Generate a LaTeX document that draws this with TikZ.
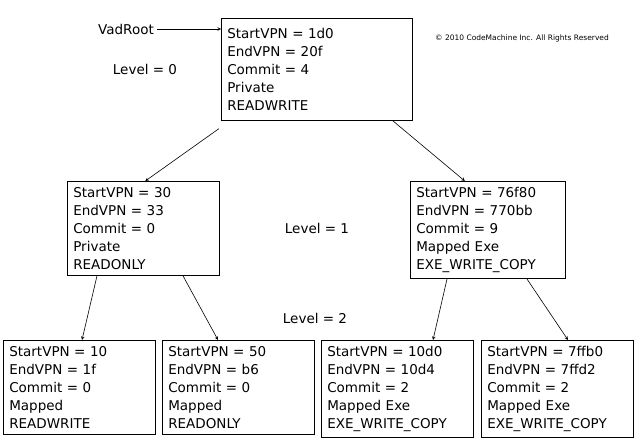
\documentclass[tikz,border=0pt]{standalone}
\usepackage{fontspec}
\setmainfont{DejaVu Sans}
\usetikzlibrary{positioning}

\tikzset{vad/.style={draw, semithick, anchor=north west, align=left, inner sep=6pt,
    text width=#1-12pt, minimum height=93pt, font=\fontsize{13.5}{18}\selectfont},
  vad/.default=152pt,
  lvl/.style={font=\fontsize{13.5}{15}\selectfont},
  arr/.style={semithick, ->, >=stealth}}

\begin{document}
\begin{tikzpicture}[x=1pt, y=-1pt]
\useasboundingbox (0,0) rectangle (643,447);

% root level
\node[vad=191pt, minimum height=102pt] (root) at (221,18)
  {StartVPN = 1d0\\EndVPN = 20f\\Commit = 4\\Private\\READWRITE};

% level 1
\node[vad] (va) at (67,181)
  {StartVPN = 30\\EndVPN = 33\\Commit = 0\\Private\\READONLY};
\node[vad=155pt] (vb) at (410,181)
  {StartVPN = 76f80\\EndVPN = 770bb\\Commit = 9\\Mapped Exe\\EXE\_WRITE\_COPY};

% level 2
\node[vad] (vaa) at (3,340)
  {StartVPN = 10\\EndVPN = 1f\\Commit = 0\\Mapped\\READWRITE};
\node[vad] (vab) at (162,340)
  {StartVPN = 50\\EndVPN = b6\\Commit = 0\\Mapped\\READONLY};
\node[vad] (vba) at (321,340)
  {StartVPN = 10d0\\EndVPN = 10d4\\Commit = 2\\Mapped Exe\\EXE\_WRITE\_COPY};
\node[vad] (vbb) at (481,340)
  {StartVPN = 7ffb0\\EndVPN = 7ffd2\\Commit = 2\\Mapped Exe\\EXE\_WRITE\_COPY};

% labels
\node[lvl] (vadroot) at (126,29) {VadRoot};
\node[lvl] (lv0) at (145,69) {Level = 0};
\node[lvl] (lv1) at (317,228) {Level = 1};
\node[lvl] (lv2) at (315,318) {Level = 2};
\node[font=\fontsize{7.5}{9}\selectfont] (copy) at (522,38) {\copyright\ 2010 CodeMachine Inc. All Rights Reserved};

% links
\draw[arr] (vadroot.east) -- (root.north west |- vadroot.east);
\draw[arr] ([shift={(-2,8)}]root.south west) -- ([xshift=2]va.north);
\draw[arr] ([xshift=-20]root.south east) -- ([xshift=-23]vb.north);
\draw[arr] ([xshift=30]va.south west) -- ([xshift=79]vaa.north west);
\draw[arr] ([xshift=116]va.south west) -- ([xshift=56]vab.north west);
\draw[arr] ([xshift=37]vb.south west) -- ([xshift=112]vba.north west);
\draw[arr] ([xshift=117]vb.south west) -- ([xshift=87]vbb.north west);
\end{tikzpicture}
\end{document}
